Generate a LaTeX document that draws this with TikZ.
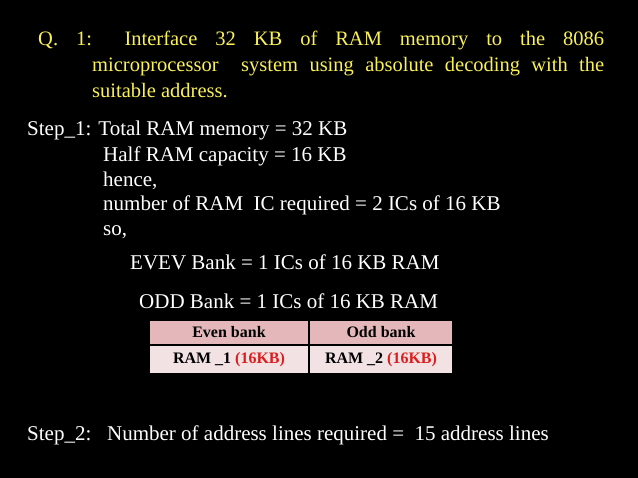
\documentclass[tikz,border=0pt]{standalone}
\usepackage{fontspec}
\setmainfont{Liberation Serif}
\definecolor{ttl}{RGB}{250,240,90}
\definecolor{hdr}{RGB}{228,184,186}
\definecolor{rowc}{RGB}{243,226,227}
\definecolor{rd}{RGB}{220,30,30}
\tikzset{txt/.style={anchor=base west,inner sep=0pt,text=white,font=\fontsize{21}{24}\selectfont},
ttxt/.style={anchor=base west,inner sep=0pt,text=ttl,font=\fontsize{20.5}{24}\selectfont},
cell/.style={draw=black,line width=1pt,inner sep=0pt,font=\bfseries\fontsize{16}{18}\selectfont}}
\begin{document}
\begin{tikzpicture}[x=1pt,y=-1pt]
\fill[black] (0,0) rectangle (638,478);
\useasboundingbox (0,0) rectangle (638,478);
\node[ttxt] (q1) at (38,46) {\makebox[566pt][s]{Q. 1: Interface 32 KB of RAM memory to the 8086}};
\node[ttxt] (q2) at (92,72) {\makebox[512pt][s]{microprocessor\ \ system using absolute decoding with the}};
\node[ttxt] (q3) at (92,98) {suitable address.};
\node[txt] (s1) at (27,136) {Step\_1: Total RAM memory = 32 KB};
\node[txt] (l2) at (103,162) {Half RAM capacity = 16 KB};
\node[txt] (l3) at (103,187) {hence,};
\node[txt] (l4) at (103,211) {number of RAM\ \ IC required = 2 ICs of 16 KB};
\node[txt] (l5) at (103,236) {so,};
\node[txt] (ev) at (130,270) {EVEV Bank = 1 ICs of 16 KB RAM};
\node[txt] (od) at (139,309) {ODD Bank = 1 ICs of 16 KB RAM};
\node[cell,fill=hdr,minimum width=159pt,minimum height=24pt,anchor=north west] (h1) at (149,320) {Even bank};
\node[cell,fill=hdr,minimum width=143pt,minimum height=24pt,anchor=north west] (h2) at (h1.north east) {Odd bank};
\node[cell,fill=rowc,minimum width=159pt,minimum height=28pt,anchor=north west] (r1) at (h1.south west) {RAM \_1 \textcolor{rd}{(16KB)}};
\node[cell,fill=rowc,minimum width=143pt,minimum height=28pt,anchor=north west] (r2) at (r1.north east) {RAM \_2 \textcolor{rd}{(16KB)}};
\node[txt] (s2) at (27,441) {Step\_2:\ \ \ Number of address lines required =\ \ 15 address lines};
\end{tikzpicture}
\end{document}
